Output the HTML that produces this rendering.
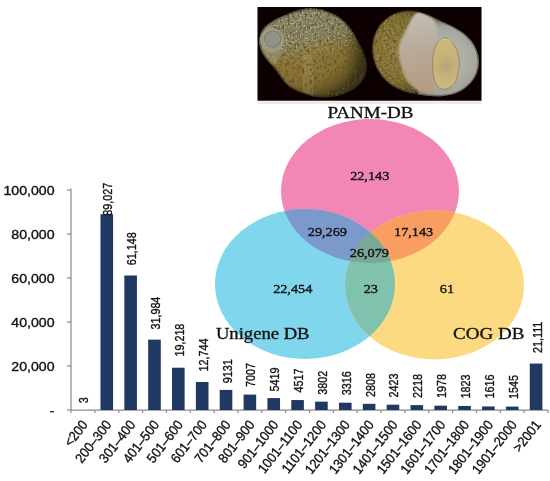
<!DOCTYPE html><html><head><meta charset="utf-8"><style>html,body{margin:0;padding:0;background:#fff;}svg{display:block}</style></head><body>
<svg width="550" height="481" viewBox="0 0 550 481">
<rect width="550" height="481" fill="#fff"/>
<g stroke="#8e8e8e" stroke-width="1.25" fill="none">
<line x1="71.0" y1="188.5" x2="71.0" y2="410.0"/>
<line x1="71.0" y1="410.0" x2="548.5" y2="410.0"/>
<line x1="67.0" y1="410.0" x2="71.0" y2="410.0"/>
<line x1="67.0" y1="366.0" x2="71.0" y2="366.0"/>
<line x1="67.0" y1="322.0" x2="71.0" y2="322.0"/>
<line x1="67.0" y1="278.0" x2="71.0" y2="278.0"/>
<line x1="67.0" y1="234.0" x2="71.0" y2="234.0"/>
<line x1="67.0" y1="190.0" x2="71.0" y2="190.0"/>
<line x1="71.00" y1="410.0" x2="71.00" y2="413.0"/>
<line x1="94.85" y1="410.0" x2="94.85" y2="413.0"/>
<line x1="118.70" y1="410.0" x2="118.70" y2="413.0"/>
<line x1="142.55" y1="410.0" x2="142.55" y2="413.0"/>
<line x1="166.40" y1="410.0" x2="166.40" y2="413.0"/>
<line x1="190.25" y1="410.0" x2="190.25" y2="413.0"/>
<line x1="214.10" y1="410.0" x2="214.10" y2="413.0"/>
<line x1="237.95" y1="410.0" x2="237.95" y2="413.0"/>
<line x1="261.80" y1="410.0" x2="261.80" y2="413.0"/>
<line x1="285.65" y1="410.0" x2="285.65" y2="413.0"/>
<line x1="309.50" y1="410.0" x2="309.50" y2="413.0"/>
<line x1="333.35" y1="410.0" x2="333.35" y2="413.0"/>
<line x1="357.20" y1="410.0" x2="357.20" y2="413.0"/>
<line x1="381.05" y1="410.0" x2="381.05" y2="413.0"/>
<line x1="404.90" y1="410.0" x2="404.90" y2="413.0"/>
<line x1="428.75" y1="410.0" x2="428.75" y2="413.0"/>
<line x1="452.60" y1="410.0" x2="452.60" y2="413.0"/>
<line x1="476.45" y1="410.0" x2="476.45" y2="413.0"/>
<line x1="500.30" y1="410.0" x2="500.30" y2="413.0"/>
<line x1="524.15" y1="410.0" x2="524.15" y2="413.0"/>
<line x1="548.00" y1="410.0" x2="548.00" y2="413.0"/>
</g>
<g fill="#1f3963">
<rect x="100.48" y="214.14" width="12.6" height="195.86"/>
<rect x="124.33" y="275.47" width="12.6" height="134.53"/>
<rect x="148.18" y="339.64" width="12.6" height="70.36"/>
<rect x="172.02" y="367.72" width="12.6" height="42.28"/>
<rect x="195.88" y="381.96" width="12.6" height="28.04"/>
<rect x="219.72" y="389.91" width="12.6" height="20.09"/>
<rect x="243.57" y="394.58" width="12.6" height="15.42"/>
<rect x="267.43" y="398.08" width="12.6" height="11.92"/>
<rect x="291.28" y="400.06" width="12.6" height="9.94"/>
<rect x="315.12" y="401.64" width="12.6" height="8.36"/>
<rect x="338.98" y="402.70" width="12.6" height="7.30"/>
<rect x="362.82" y="403.82" width="12.6" height="6.18"/>
<rect x="386.68" y="404.67" width="12.6" height="5.33"/>
<rect x="410.53" y="405.12" width="12.6" height="4.88"/>
<rect x="434.38" y="405.65" width="12.6" height="4.35"/>
<rect x="458.23" y="405.99" width="12.6" height="4.01"/>
<rect x="482.07" y="406.44" width="12.6" height="3.56"/>
<rect x="505.93" y="406.60" width="12.6" height="3.40"/>
<rect x="529.78" y="363.56" width="12.6" height="46.44"/>
</g>
<g font-family="Liberation Sans, Arial, sans-serif" font-size="12.4" fill="#111" text-anchor="end" stroke="#111" stroke-width="0.35">
<text transform="translate(54.5,414.6) scale(1.14,1)">-</text>
<text transform="translate(54.5,370.6) scale(1.14,1)">20,000</text>
<text transform="translate(54.5,326.6) scale(1.14,1)">40,000</text>
<text transform="translate(54.5,282.6) scale(1.14,1)">60,000</text>
<text transform="translate(54.5,238.6) scale(1.14,1)">80,000</text>
<text transform="translate(54.5,194.6) scale(1.14,1)">100,000</text>
</g>
<g font-family="Liberation Sans, Arial, sans-serif" font-size="10.8" fill="#111" stroke="#111" stroke-width="0.3">
<text transform="translate(88.42,403.2) scale(1.2,1) rotate(-90)">3</text>
<text transform="translate(112.28,215.8) scale(1.2,1) rotate(-90)">89,027</text>
<text transform="translate(136.12,265.3) scale(1.2,1) rotate(-90)">61,148</text>
<text transform="translate(159.98,329.6) scale(1.2,1) rotate(-90)">31,984</text>
<text transform="translate(183.82,356.6) scale(1.2,1) rotate(-90)">19,218</text>
<text transform="translate(207.68,371.5) scale(1.2,1) rotate(-90)">12,744</text>
<text transform="translate(231.53,383.3) scale(1.2,1) rotate(-90)">9131</text>
<text transform="translate(255.38,387) scale(1.2,1) rotate(-90)">7007</text>
<text transform="translate(279.23,391.6) scale(1.2,1) rotate(-90)">5419</text>
<text transform="translate(303.08,392.5) scale(1.2,1) rotate(-90)">4517</text>
<text transform="translate(326.93,394.7) scale(1.2,1) rotate(-90)">3802</text>
<text transform="translate(350.78,395.2) scale(1.2,1) rotate(-90)">3316</text>
<text transform="translate(374.62,396.9) scale(1.2,1) rotate(-90)">2808</text>
<text transform="translate(398.48,397.6) scale(1.2,1) rotate(-90)">2423</text>
<text transform="translate(422.33,398) scale(1.2,1) rotate(-90)">2218</text>
<text transform="translate(446.18,398) scale(1.2,1) rotate(-90)">1978</text>
<text transform="translate(470.03,398.4) scale(1.2,1) rotate(-90)">1823</text>
<text transform="translate(493.88,398.4) scale(1.2,1) rotate(-90)">1616</text>
<text transform="translate(517.73,399) scale(1.2,1) rotate(-90)">1545</text>
<text transform="translate(541.58,353) scale(1.2,1) rotate(-90)">21,111</text>
</g>
<g font-family="Liberation Sans, Arial, sans-serif" font-size="12.7" fill="#111" text-anchor="end" stroke="#111" stroke-width="0.3">
<text transform="translate(88.33,425.0) rotate(-52) scale(1,1.08)">&lt;200</text>
<text transform="translate(112.18,425.0) rotate(-52) scale(1,1.08)">200–300</text>
<text transform="translate(136.03,425.0) rotate(-52) scale(1,1.08)">301–400</text>
<text transform="translate(159.88,425.0) rotate(-52) scale(1,1.08)">401–500</text>
<text transform="translate(183.72,425.0) rotate(-52) scale(1,1.08)">501–600</text>
<text transform="translate(207.58,425.0) rotate(-52) scale(1,1.08)">601–700</text>
<text transform="translate(231.43,425.0) rotate(-52) scale(1,1.08)">701–800</text>
<text transform="translate(255.28,425.0) rotate(-52) scale(1,1.08)">801–900</text>
<text transform="translate(279.12,425.0) rotate(-52) scale(1,1.08)">901–1000</text>
<text transform="translate(302.98,425.0) rotate(-52) scale(1,1.08)">1001–1100</text>
<text transform="translate(326.82,425.0) rotate(-52) scale(1,1.08)">1101–1200</text>
<text transform="translate(350.68,425.0) rotate(-52) scale(1,1.08)">1201–1300</text>
<text transform="translate(374.52,425.0) rotate(-52) scale(1,1.08)">1301–1400</text>
<text transform="translate(398.38,425.0) rotate(-52) scale(1,1.08)">1401–1500</text>
<text transform="translate(422.23,425.0) rotate(-52) scale(1,1.08)">1501–1600</text>
<text transform="translate(446.07,425.0) rotate(-52) scale(1,1.08)">1601–1700</text>
<text transform="translate(469.93,425.0) rotate(-52) scale(1,1.08)">1701–1800</text>
<text transform="translate(493.77,425.0) rotate(-52) scale(1,1.08)">1801–1900</text>
<text transform="translate(517.62,425.0) rotate(-52) scale(1,1.08)">1901–2000</text>
<text transform="translate(541.48,425.0) rotate(-52) scale(1,1.08)">&gt;2001</text>
</g>
<defs>
<clipPath id="cP"><ellipse cx="370" cy="191" rx="89" ry="72"/></clipPath>
<clipPath id="cB"><ellipse cx="305" cy="284" rx="90" ry="75"/></clipPath>
<clipPath id="cY"><ellipse cx="434.5" cy="285" rx="89.5" ry="74.5"/></clipPath>
</defs>
<ellipse cx="370" cy="191" rx="89" ry="72" fill="#f287b5"/>
<ellipse cx="305" cy="284" rx="90" ry="75" fill="#80d6ec"/>
<ellipse cx="434.5" cy="285" rx="89.5" ry="74.5" fill="#fbda82"/>
<g clip-path="url(#cP)"><ellipse cx="305" cy="284" rx="90" ry="75" fill="#7b99cb"/><ellipse cx="434.5" cy="285" rx="89.5" ry="74.5" fill="#f89e60"/></g>
<g clip-path="url(#cB)"><ellipse cx="434.5" cy="285" rx="89.5" ry="74.5" fill="#80c2ad"/></g>
<g clip-path="url(#cP)"><g clip-path="url(#cB)"><ellipse cx="434.5" cy="285" rx="89.5" ry="74.5" fill="#79a897"/></g></g>
<g font-family="Liberation Serif, Times New Roman, serif" font-size="13.2" fill="#151515" text-anchor="middle" stroke="#151515" stroke-width="0.4">
<text transform="translate(369.7,180.0) scale(1.08,1)">22,143</text>
<text transform="translate(327.4,235.7) scale(1.08,1)">29,269</text>
<text transform="translate(413.6,235.7) scale(1.08,1)">17,143</text>
<text transform="translate(369.4,256.8) scale(1.08,1)">26,079</text>
<text transform="translate(292.7,293.1) scale(1.08,1)">22,454</text>
<text transform="translate(370.8,293.1) scale(1.08,1)">23</text>
<text transform="translate(446.9,293.1) scale(1.08,1)">61</text>
</g>
<g font-family="Liberation Serif, Times New Roman, serif" font-size="16" fill="#111" text-anchor="middle" stroke="#111" stroke-width="0.3">
<text transform="translate(370.5,117.5) scale(1.19,1)">PANM-DB</text>
<text transform="translate(262.7,339.4) scale(1.165,1)">Unigene DB</text>
<text transform="translate(488.8,339.4) scale(1.19,1)">COG DB</text>
</g>
<defs>
<clipPath id="cS1"><path d="M264.3,56.0 C263.3,54.4 262.3,52.7 261.5,51.0 C260.8,49.3 260.1,47.4 259.8,45.6 C259.4,43.8 259.2,41.9 259.3,40.0 C259.4,38.2 259.8,36.4 260.4,34.7 C261.0,32.9 261.8,31.3 262.8,29.8 C263.8,28.3 265.1,26.9 266.4,25.6 C267.7,24.3 269.2,23.2 270.7,22.2 C272.2,21.2 273.8,20.3 275.4,19.5 C276.9,18.7 278.5,17.9 280.1,17.2 C281.6,16.5 283.2,15.9 284.7,15.3 C286.2,14.7 287.7,14.1 289.1,13.5 C290.6,12.9 292.1,12.3 293.6,11.8 C295.0,11.3 296.5,10.8 298.0,10.3 C299.5,9.9 301.0,9.5 302.6,9.2 C304.1,8.9 305.6,8.7 307.2,8.6 C308.7,8.4 310.3,8.4 311.9,8.4 C313.4,8.5 315.0,8.6 316.5,8.8 C318.0,9.0 319.6,9.3 321.1,9.6 C322.6,10.0 324.1,10.4 325.5,10.9 C327.0,11.3 328.5,11.9 329.9,12.4 C331.3,13.0 332.7,13.7 334.1,14.4 C335.5,15.1 336.8,15.8 338.1,16.7 C339.4,17.5 340.7,18.4 341.9,19.4 C343.1,20.3 344.3,21.4 345.4,22.5 C346.4,23.6 347.5,24.7 348.4,25.9 C349.4,27.2 350.3,28.4 351.2,29.7 C352.1,31.0 352.9,32.3 353.7,33.6 C354.5,35.0 355.2,36.3 356.0,37.7 C356.8,39.1 357.5,40.5 358.3,41.9 C359.0,43.3 359.8,44.8 360.6,46.3 C361.3,47.8 362.1,49.3 362.8,51.0 C363.5,52.6 364.2,54.2 364.7,56.0 C365.3,57.7 365.8,59.5 366.1,61.3 C366.4,63.1 366.6,65.0 366.6,66.9 C366.5,68.7 366.3,70.6 365.9,72.4 C365.5,74.2 364.9,75.9 364.1,77.6 C363.3,79.3 362.2,80.8 361.1,82.3 C359.9,83.7 358.6,85.1 357.2,86.3 C355.8,87.5 354.3,88.6 352.7,89.5 C351.2,90.5 349.5,91.3 347.9,92.0 C346.3,92.8 344.7,93.4 343.0,94.0 C341.4,94.5 339.8,95.0 338.2,95.4 C336.6,95.8 335.0,96.2 333.5,96.4 C331.9,96.7 330.4,96.9 328.9,97.1 C327.4,97.2 325.9,97.3 324.4,97.3 C322.9,97.4 321.5,97.3 320.1,97.2 C318.6,97.1 317.2,96.9 315.9,96.7 C314.5,96.5 313.2,96.2 311.9,95.9 C310.6,95.5 309.3,95.2 308.0,94.8 C306.8,94.4 305.6,94.0 304.4,93.6 C303.2,93.2 302.0,92.8 300.8,92.4 C299.7,91.9 298.5,91.5 297.4,91.0 C296.2,90.5 295.1,90.0 294.0,89.4 C292.9,88.8 291.8,88.2 290.8,87.5 C289.8,86.8 288.8,86.1 287.8,85.3 C286.9,84.5 286.0,83.6 285.2,82.7 C284.3,81.8 283.6,80.8 282.8,79.8 C282.1,78.8 281.4,77.8 280.7,76.8 C280.0,75.8 279.4,74.7 278.6,73.7 C277.9,72.7 277.2,71.7 276.4,70.7 C275.6,69.6 274.7,68.6 273.8,67.5 C272.9,66.4 271.8,65.3 270.8,64.1 C269.7,62.9 268.6,61.7 267.5,60.3 C266.4,59.0 265.3,57.5 264.3,56.0 Z"/></clipPath>
<clipPath id="cS2"><path d="M373.0,56.1 C372.7,54.4 372.5,52.6 372.4,50.8 C372.3,49.0 372.4,47.2 372.5,45.3 C372.7,43.5 372.9,41.7 373.3,39.9 C373.7,38.1 374.2,36.3 374.9,34.6 C375.5,32.8 376.3,31.1 377.2,29.5 C378.1,27.9 379.1,26.3 380.2,24.8 C381.3,23.4 382.6,22.0 383.9,20.7 C385.2,19.4 386.7,18.2 388.2,17.2 C389.7,16.1 391.3,15.2 393.0,14.4 C394.6,13.6 396.3,12.9 398.0,12.4 C399.8,11.9 401.5,11.5 403.3,11.2 C405.0,10.9 406.8,10.8 408.6,10.8 C410.3,10.8 412.0,10.9 413.7,11.1 C415.4,11.3 417.0,11.6 418.6,11.9 C420.2,12.3 421.8,12.8 423.3,13.2 C424.8,13.7 426.2,14.3 427.6,14.8 C429.0,15.4 430.4,16.0 431.7,16.6 C433.0,17.2 434.3,17.8 435.6,18.4 C436.8,19.0 438.0,19.6 439.3,20.2 C440.5,20.8 441.8,21.4 443.0,22.0 C444.3,22.6 445.5,23.1 446.8,23.8 C448.1,24.4 449.4,25.0 450.7,25.6 C452.1,26.3 453.4,27.0 454.8,27.7 C456.2,28.5 457.6,29.3 459.0,30.2 C460.4,31.1 461.8,32.0 463.2,33.1 C464.6,34.2 465.9,35.3 467.2,36.6 C468.5,37.8 469.8,39.2 471.0,40.6 C472.1,42.1 473.2,43.7 474.2,45.3 C475.1,47.0 476.0,48.7 476.6,50.5 C477.3,52.3 477.8,54.2 478.2,56.1 C478.5,58.0 478.7,60.0 478.7,62.0 C478.7,63.9 478.6,65.9 478.2,67.8 C477.8,69.7 477.3,71.6 476.6,73.4 C475.8,75.3 474.9,77.0 473.9,78.7 C472.9,80.3 471.7,81.9 470.4,83.3 C469.1,84.8 467.6,86.1 466.1,87.3 C464.7,88.5 463.0,89.5 461.4,90.5 C459.8,91.4 458.1,92.2 456.4,92.9 C454.7,93.6 452.9,94.1 451.2,94.6 C449.5,95.0 447.8,95.4 446.1,95.6 C444.4,95.9 442.7,96.0 441.1,96.2 C439.5,96.3 437.9,96.3 436.3,96.3 C434.8,96.3 433.3,96.2 431.8,96.1 C430.3,96.1 428.9,95.9 427.5,95.8 C426.0,95.7 424.7,95.5 423.3,95.3 C421.9,95.2 420.6,95.0 419.2,94.8 C417.9,94.6 416.6,94.3 415.2,94.1 C413.9,93.8 412.6,93.6 411.2,93.3 C409.9,92.9 408.6,92.6 407.2,92.2 C405.9,91.8 404.5,91.4 403.2,90.9 C401.9,90.4 400.5,89.9 399.2,89.3 C397.9,88.7 396.5,88.0 395.2,87.3 C393.9,86.6 392.6,85.8 391.4,84.9 C390.1,84.0 388.9,83.0 387.7,82.0 C386.5,81.0 385.3,79.9 384.2,78.7 C383.1,77.5 382.1,76.2 381.1,74.9 C380.1,73.6 379.2,72.2 378.4,70.7 C377.5,69.3 376.7,67.8 376.0,66.2 C375.4,64.6 374.8,63.0 374.3,61.3 C373.7,59.6 373.3,57.9 373.0,56.1 Z"/></clipPath>
<filter id="nzL" x="0" y="0" width="1" height="1"><feTurbulence type="fractalNoise" baseFrequency="0.5 0.6" numOctaves="2" seed="4" result="n"/><feColorMatrix in="n" type="matrix" values="0 0 0 0 0.76  0 0 0 0 0.80  0 0 0 0 0.74  4.5 0 0 0 -2.3"/></filter>
<filter id="nzD" x="0" y="0" width="1" height="1"><feTurbulence type="fractalNoise" baseFrequency="0.4 0.3" numOctaves="2" seed="9" result="n"/><feColorMatrix in="n" type="matrix" values="0 0 0 0 0.12  0 0 0 0 0.09  0 0 0 0 0.02  4 0 0 0 -2.0"/></filter>
<radialGradient id="g1" gradientUnits="userSpaceOnUse" cx="300" cy="48" r="66" gradientTransform="translate(300 48) scale(1 0.8) rotate(20) translate(-300 -48)"><stop offset="0" stop-color="#927c3c"/><stop offset="0.65" stop-color="#866e32"/><stop offset="0.85" stop-color="#6a5826"/><stop offset="1" stop-color="#3e3416"/></radialGradient>
<linearGradient id="g1b" gradientUnits="userSpaceOnUse" x1="300" y1="10" x2="312" y2="62"><stop offset="0" stop-color="#8a8c78" stop-opacity="0.8"/><stop offset="0.6" stop-color="#7c8270" stop-opacity="0.6"/><stop offset="0.9" stop-color="#807a50" stop-opacity="0"/></linearGradient>
<linearGradient id="g1r" gradientUnits="userSpaceOnUse" x1="345" y1="0" x2="367" y2="0"><stop offset="0" stop-color="#2a2812" stop-opacity="0"/><stop offset="1" stop-color="#2a2812" stop-opacity="0.55"/></linearGradient>
<radialGradient id="g2" gradientUnits="userSpaceOnUse" cx="395" cy="50" r="48"><stop offset="0" stop-color="#8e7a38"/><stop offset="0.7" stop-color="#7e6a2c"/><stop offset="1" stop-color="#423616"/></radialGradient>
<linearGradient id="gWb" gradientUnits="userSpaceOnUse" x1="410" y1="15" x2="420" y2="95"><stop offset="0" stop-color="#c2beb2"/><stop offset="0.45" stop-color="#b8aa98"/><stop offset="1" stop-color="#b49c80"/></linearGradient>
<radialGradient id="gIn" gradientUnits="userSpaceOnUse" cx="446" cy="66" r="27"><stop offset="0" stop-color="#b8a476"/><stop offset="0.45" stop-color="#c6b47a"/><stop offset="1" stop-color="#ccba7c"/></radialGradient>
<radialGradient id="gLip" gradientUnits="userSpaceOnUse" cx="444" cy="60" r="40"><stop offset="0.5" stop-color="#b0b0a6"/><stop offset="0.85" stop-color="#a2a49a"/><stop offset="1" stop-color="#7a7a70"/></radialGradient>
<linearGradient id="mg1" gradientUnits="userSpaceOnUse" x1="305" y1="10" x2="312" y2="66"><stop offset="0" stop-color="#fff"/><stop offset="0.6" stop-color="#fff"/><stop offset="1" stop-color="#000"/></linearGradient>
<mask id="m1" maskUnits="userSpaceOnUse" x="250" y="0" width="240" height="110"><rect x="250" y="0" width="240" height="110" fill="url(#mg1)"/></mask>
<filter id="bl1" x="-20%" y="-20%" width="140%" height="140%"><feGaussianBlur stdDeviation="1.2"/></filter>
<filter id="phb" x="-5%" y="-5%" width="110%" height="110%"><feGaussianBlur stdDeviation="0.55"/></filter>
</defs>
<g filter="url(#phb)">
<rect x="258" y="101" width="224" height="3" fill="#000" opacity="0.08"/>
<rect x="257.5" y="7" width="224" height="93.7" fill="#070605"/>
<path d="M264.3,56.0 C263.3,54.4 262.3,52.7 261.5,51.0 C260.8,49.3 260.1,47.4 259.8,45.6 C259.4,43.8 259.2,41.9 259.3,40.0 C259.4,38.2 259.8,36.4 260.4,34.7 C261.0,32.9 261.8,31.3 262.8,29.8 C263.8,28.3 265.1,26.9 266.4,25.6 C267.7,24.3 269.2,23.2 270.7,22.2 C272.2,21.2 273.8,20.3 275.4,19.5 C276.9,18.7 278.5,17.9 280.1,17.2 C281.6,16.5 283.2,15.9 284.7,15.3 C286.2,14.7 287.7,14.1 289.1,13.5 C290.6,12.9 292.1,12.3 293.6,11.8 C295.0,11.3 296.5,10.8 298.0,10.3 C299.5,9.9 301.0,9.5 302.6,9.2 C304.1,8.9 305.6,8.7 307.2,8.6 C308.7,8.4 310.3,8.4 311.9,8.4 C313.4,8.5 315.0,8.6 316.5,8.8 C318.0,9.0 319.6,9.3 321.1,9.6 C322.6,10.0 324.1,10.4 325.5,10.9 C327.0,11.3 328.5,11.9 329.9,12.4 C331.3,13.0 332.7,13.7 334.1,14.4 C335.5,15.1 336.8,15.8 338.1,16.7 C339.4,17.5 340.7,18.4 341.9,19.4 C343.1,20.3 344.3,21.4 345.4,22.5 C346.4,23.6 347.5,24.7 348.4,25.9 C349.4,27.2 350.3,28.4 351.2,29.7 C352.1,31.0 352.9,32.3 353.7,33.6 C354.5,35.0 355.2,36.3 356.0,37.7 C356.8,39.1 357.5,40.5 358.3,41.9 C359.0,43.3 359.8,44.8 360.6,46.3 C361.3,47.8 362.1,49.3 362.8,51.0 C363.5,52.6 364.2,54.2 364.7,56.0 C365.3,57.7 365.8,59.5 366.1,61.3 C366.4,63.1 366.6,65.0 366.6,66.9 C366.5,68.7 366.3,70.6 365.9,72.4 C365.5,74.2 364.9,75.9 364.1,77.6 C363.3,79.3 362.2,80.8 361.1,82.3 C359.9,83.7 358.6,85.1 357.2,86.3 C355.8,87.5 354.3,88.6 352.7,89.5 C351.2,90.5 349.5,91.3 347.9,92.0 C346.3,92.8 344.7,93.4 343.0,94.0 C341.4,94.5 339.8,95.0 338.2,95.4 C336.6,95.8 335.0,96.2 333.5,96.4 C331.9,96.7 330.4,96.9 328.9,97.1 C327.4,97.2 325.9,97.3 324.4,97.3 C322.9,97.4 321.5,97.3 320.1,97.2 C318.6,97.1 317.2,96.9 315.9,96.7 C314.5,96.5 313.2,96.2 311.9,95.9 C310.6,95.5 309.3,95.2 308.0,94.8 C306.8,94.4 305.6,94.0 304.4,93.6 C303.2,93.2 302.0,92.8 300.8,92.4 C299.7,91.9 298.5,91.5 297.4,91.0 C296.2,90.5 295.1,90.0 294.0,89.4 C292.9,88.8 291.8,88.2 290.8,87.5 C289.8,86.8 288.8,86.1 287.8,85.3 C286.9,84.5 286.0,83.6 285.2,82.7 C284.3,81.8 283.6,80.8 282.8,79.8 C282.1,78.8 281.4,77.8 280.7,76.8 C280.0,75.8 279.4,74.7 278.6,73.7 C277.9,72.7 277.2,71.7 276.4,70.7 C275.6,69.6 274.7,68.6 273.8,67.5 C272.9,66.4 271.8,65.3 270.8,64.1 C269.7,62.9 268.6,61.7 267.5,60.3 C266.4,59.0 265.3,57.5 264.3,56.0 Z" fill="url(#g1)"/>
<g clip-path="url(#cS1)">
<path d="M264.3,56.0 C263.3,54.4 262.3,52.7 261.5,51.0 C260.8,49.3 260.1,47.4 259.8,45.6 C259.4,43.8 259.2,41.9 259.3,40.0 C259.4,38.2 259.8,36.4 260.4,34.7 C261.0,32.9 261.8,31.3 262.8,29.8 C263.8,28.3 265.1,26.9 266.4,25.6 C267.7,24.3 269.2,23.2 270.7,22.2 C272.2,21.2 273.8,20.3 275.4,19.5 C276.9,18.7 278.5,17.9 280.1,17.2 C281.6,16.5 283.2,15.9 284.7,15.3 C286.2,14.7 287.7,14.1 289.1,13.5 C290.6,12.9 292.1,12.3 293.6,11.8 C295.0,11.3 296.5,10.8 298.0,10.3 C299.5,9.9 301.0,9.5 302.6,9.2 C304.1,8.9 305.6,8.7 307.2,8.6 C308.7,8.4 310.3,8.4 311.9,8.4 C313.4,8.5 315.0,8.6 316.5,8.8 C318.0,9.0 319.6,9.3 321.1,9.6 C322.6,10.0 324.1,10.4 325.5,10.9 C327.0,11.3 328.5,11.9 329.9,12.4 C331.3,13.0 332.7,13.7 334.1,14.4 C335.5,15.1 336.8,15.8 338.1,16.7 C339.4,17.5 340.7,18.4 341.9,19.4 C343.1,20.3 344.3,21.4 345.4,22.5 C346.4,23.6 347.5,24.7 348.4,25.9 C349.4,27.2 350.3,28.4 351.2,29.7 C352.1,31.0 352.9,32.3 353.7,33.6 C354.5,35.0 355.2,36.3 356.0,37.7 C356.8,39.1 357.5,40.5 358.3,41.9 C359.0,43.3 359.8,44.8 360.6,46.3 C361.3,47.8 362.1,49.3 362.8,51.0 C363.5,52.6 364.2,54.2 364.7,56.0 C365.3,57.7 365.8,59.5 366.1,61.3 C366.4,63.1 366.6,65.0 366.6,66.9 C366.5,68.7 366.3,70.6 365.9,72.4 C365.5,74.2 364.9,75.9 364.1,77.6 C363.3,79.3 362.2,80.8 361.1,82.3 C359.9,83.7 358.6,85.1 357.2,86.3 C355.8,87.5 354.3,88.6 352.7,89.5 C351.2,90.5 349.5,91.3 347.9,92.0 C346.3,92.8 344.7,93.4 343.0,94.0 C341.4,94.5 339.8,95.0 338.2,95.4 C336.6,95.8 335.0,96.2 333.5,96.4 C331.9,96.7 330.4,96.9 328.9,97.1 C327.4,97.2 325.9,97.3 324.4,97.3 C322.9,97.4 321.5,97.3 320.1,97.2 C318.6,97.1 317.2,96.9 315.9,96.7 C314.5,96.5 313.2,96.2 311.9,95.9 C310.6,95.5 309.3,95.2 308.0,94.8 C306.8,94.4 305.6,94.0 304.4,93.6 C303.2,93.2 302.0,92.8 300.8,92.4 C299.7,91.9 298.5,91.5 297.4,91.0 C296.2,90.5 295.1,90.0 294.0,89.4 C292.9,88.8 291.8,88.2 290.8,87.5 C289.8,86.8 288.8,86.1 287.8,85.3 C286.9,84.5 286.0,83.6 285.2,82.7 C284.3,81.8 283.6,80.8 282.8,79.8 C282.1,78.8 281.4,77.8 280.7,76.8 C280.0,75.8 279.4,74.7 278.6,73.7 C277.9,72.7 277.2,71.7 276.4,70.7 C275.6,69.6 274.7,68.6 273.8,67.5 C272.9,66.4 271.8,65.3 270.8,64.1 C269.7,62.9 268.6,61.7 267.5,60.3 C266.4,59.0 265.3,57.5 264.3,56.0 Z" fill="url(#g1b)"/>
<rect x="303" y="55" width="10" height="45" fill="#a89a6a" opacity="0.3"/>
<rect x="255" y="5" width="115" height="100" filter="url(#nzD)"/>
<g mask="url(#m1)"><rect x="255" y="5" width="115" height="95" filter="url(#nzL)" opacity="0.45"/></g>
<rect x="330" y="5" width="40" height="100" fill="url(#g1r)"/>
<ellipse cx="269" cy="46" rx="13" ry="20" fill="#a8a080" opacity="0.45"/>
<path d="M264.3,56.0 C263.3,54.4 262.3,52.7 261.5,51.0 C260.8,49.3 260.1,47.4 259.8,45.6 C259.4,43.8 259.2,41.9 259.3,40.0 C259.4,38.2 259.8,36.4 260.4,34.7 C261.0,32.9 261.8,31.3 262.8,29.8 C263.8,28.3 265.1,26.9 266.4,25.6 C267.7,24.3 269.2,23.2 270.7,22.2 C272.2,21.2 273.8,20.3 275.4,19.5 C276.9,18.7 278.5,17.9 280.1,17.2 C281.6,16.5 283.2,15.9 284.7,15.3 C286.2,14.7 287.7,14.1 289.1,13.5 C290.6,12.9 292.1,12.3 293.6,11.8 C295.0,11.3 296.5,10.8 298.0,10.3 C299.5,9.9 301.0,9.5 302.6,9.2 C304.1,8.9 305.6,8.7 307.2,8.6 C308.7,8.4 310.3,8.4 311.9,8.4 C313.4,8.5 315.0,8.6 316.5,8.8 C318.0,9.0 319.6,9.3 321.1,9.6 C322.6,10.0 324.1,10.4 325.5,10.9 C327.0,11.3 328.5,11.9 329.9,12.4 C331.3,13.0 332.7,13.7 334.1,14.4 C335.5,15.1 336.8,15.8 338.1,16.7 C339.4,17.5 340.7,18.4 341.9,19.4 C343.1,20.3 344.3,21.4 345.4,22.5 C346.4,23.6 347.5,24.7 348.4,25.9 C349.4,27.2 350.3,28.4 351.2,29.7 C352.1,31.0 352.9,32.3 353.7,33.6 C354.5,35.0 355.2,36.3 356.0,37.7 C356.8,39.1 357.5,40.5 358.3,41.9 C359.0,43.3 359.8,44.8 360.6,46.3 C361.3,47.8 362.1,49.3 362.8,51.0 C363.5,52.6 364.2,54.2 364.7,56.0 C365.3,57.7 365.8,59.5 366.1,61.3 C366.4,63.1 366.6,65.0 366.6,66.9 C366.5,68.7 366.3,70.6 365.9,72.4 C365.5,74.2 364.9,75.9 364.1,77.6 C363.3,79.3 362.2,80.8 361.1,82.3 C359.9,83.7 358.6,85.1 357.2,86.3 C355.8,87.5 354.3,88.6 352.7,89.5 C351.2,90.5 349.5,91.3 347.9,92.0 C346.3,92.8 344.7,93.4 343.0,94.0 C341.4,94.5 339.8,95.0 338.2,95.4 C336.6,95.8 335.0,96.2 333.5,96.4 C331.9,96.7 330.4,96.9 328.9,97.1 C327.4,97.2 325.9,97.3 324.4,97.3 C322.9,97.4 321.5,97.3 320.1,97.2 C318.6,97.1 317.2,96.9 315.9,96.7 C314.5,96.5 313.2,96.2 311.9,95.9 C310.6,95.5 309.3,95.2 308.0,94.8 C306.8,94.4 305.6,94.0 304.4,93.6 C303.2,93.2 302.0,92.8 300.8,92.4 C299.7,91.9 298.5,91.5 297.4,91.0 C296.2,90.5 295.1,90.0 294.0,89.4 C292.9,88.8 291.8,88.2 290.8,87.5 C289.8,86.8 288.8,86.1 287.8,85.3 C286.9,84.5 286.0,83.6 285.2,82.7 C284.3,81.8 283.6,80.8 282.8,79.8 C282.1,78.8 281.4,77.8 280.7,76.8 C280.0,75.8 279.4,74.7 278.6,73.7 C277.9,72.7 277.2,71.7 276.4,70.7 C275.6,69.6 274.7,68.6 273.8,67.5 C272.9,66.4 271.8,65.3 270.8,64.1 C269.7,62.9 268.6,61.7 267.5,60.3 C266.4,59.0 265.3,57.5 264.3,56.0 Z" fill="none" stroke="#2a2410" stroke-width="3" opacity="0.45"/>
<circle cx="272" cy="40" r="12" fill="#a09a82" opacity="0.85"/>
<circle cx="272.8" cy="39" r="8" fill="#8e928a" opacity="0.85"/>
<circle cx="272.8" cy="39" r="8" fill="none" stroke="#6a6656" stroke-width="1.2" opacity="0.5"/>
</g>
<path d="M373.0,56.1 C372.7,54.4 372.5,52.6 372.4,50.8 C372.3,49.0 372.4,47.2 372.5,45.3 C372.7,43.5 372.9,41.7 373.3,39.9 C373.7,38.1 374.2,36.3 374.9,34.6 C375.5,32.8 376.3,31.1 377.2,29.5 C378.1,27.9 379.1,26.3 380.2,24.8 C381.3,23.4 382.6,22.0 383.9,20.7 C385.2,19.4 386.7,18.2 388.2,17.2 C389.7,16.1 391.3,15.2 393.0,14.4 C394.6,13.6 396.3,12.9 398.0,12.4 C399.8,11.9 401.5,11.5 403.3,11.2 C405.0,10.9 406.8,10.8 408.6,10.8 C410.3,10.8 412.0,10.9 413.7,11.1 C415.4,11.3 417.0,11.6 418.6,11.9 C420.2,12.3 421.8,12.8 423.3,13.2 C424.8,13.7 426.2,14.3 427.6,14.8 C429.0,15.4 430.4,16.0 431.7,16.6 C433.0,17.2 434.3,17.8 435.6,18.4 C436.8,19.0 438.0,19.6 439.3,20.2 C440.5,20.8 441.8,21.4 443.0,22.0 C444.3,22.6 445.5,23.1 446.8,23.8 C448.1,24.4 449.4,25.0 450.7,25.6 C452.1,26.3 453.4,27.0 454.8,27.7 C456.2,28.5 457.6,29.3 459.0,30.2 C460.4,31.1 461.8,32.0 463.2,33.1 C464.6,34.2 465.9,35.3 467.2,36.6 C468.5,37.8 469.8,39.2 471.0,40.6 C472.1,42.1 473.2,43.7 474.2,45.3 C475.1,47.0 476.0,48.7 476.6,50.5 C477.3,52.3 477.8,54.2 478.2,56.1 C478.5,58.0 478.7,60.0 478.7,62.0 C478.7,63.9 478.6,65.9 478.2,67.8 C477.8,69.7 477.3,71.6 476.6,73.4 C475.8,75.3 474.9,77.0 473.9,78.7 C472.9,80.3 471.7,81.9 470.4,83.3 C469.1,84.8 467.6,86.1 466.1,87.3 C464.7,88.5 463.0,89.5 461.4,90.5 C459.8,91.4 458.1,92.2 456.4,92.9 C454.7,93.6 452.9,94.1 451.2,94.6 C449.5,95.0 447.8,95.4 446.1,95.6 C444.4,95.9 442.7,96.0 441.1,96.2 C439.5,96.3 437.9,96.3 436.3,96.3 C434.8,96.3 433.3,96.2 431.8,96.1 C430.3,96.1 428.9,95.9 427.5,95.8 C426.0,95.7 424.7,95.5 423.3,95.3 C421.9,95.2 420.6,95.0 419.2,94.8 C417.9,94.6 416.6,94.3 415.2,94.1 C413.9,93.8 412.6,93.6 411.2,93.3 C409.9,92.9 408.6,92.6 407.2,92.2 C405.9,91.8 404.5,91.4 403.2,90.9 C401.9,90.4 400.5,89.9 399.2,89.3 C397.9,88.7 396.5,88.0 395.2,87.3 C393.9,86.6 392.6,85.8 391.4,84.9 C390.1,84.0 388.9,83.0 387.7,82.0 C386.5,81.0 385.3,79.9 384.2,78.7 C383.1,77.5 382.1,76.2 381.1,74.9 C380.1,73.6 379.2,72.2 378.4,70.7 C377.5,69.3 376.7,67.8 376.0,66.2 C375.4,64.6 374.8,63.0 374.3,61.3 C373.7,59.6 373.3,57.9 373.0,56.1 Z" fill="url(#g2)"/>
<g clip-path="url(#cS2)">
<rect x="365" y="5" width="50" height="100" filter="url(#nzD)"/>
<rect x="365" y="5" width="50" height="100" filter="url(#nzL)" opacity="0.25"/>
<rect x="418" y="5" width="70" height="100" fill="url(#gLip)"/>
<path d="M416.0,13.0 C419.5,10.5 423.7,13.2 427.0,15.0 C430.3,16.8 434.3,19.0 436.0,24.0 C437.7,29.0 437.2,37.3 437.0,45.0 C436.8,52.7 435.7,62.2 435.0,70.0 C434.3,77.8 435.0,88.2 433.0,92.0 C431.0,95.8 426.3,93.8 423.0,93.0 C419.7,92.2 416.0,89.7 413.0,87.0 C410.0,84.3 407.2,81.2 405.0,77.0 C402.8,72.8 401.0,67.2 400.0,62.0 C399.0,56.8 398.0,51.3 399.0,46.0 C400.0,40.7 403.2,35.5 406.0,30.0 C408.8,24.5 412.5,15.5 416.0,13.0 Z" fill="url(#gWb)" filter="url(#bl1)"/>
<path d="M373.0,56.1 C372.7,54.4 372.5,52.6 372.4,50.8 C372.3,49.0 372.4,47.2 372.5,45.3 C372.7,43.5 372.9,41.7 373.3,39.9 C373.7,38.1 374.2,36.3 374.9,34.6 C375.5,32.8 376.3,31.1 377.2,29.5 C378.1,27.9 379.1,26.3 380.2,24.8 C381.3,23.4 382.6,22.0 383.9,20.7 C385.2,19.4 386.7,18.2 388.2,17.2 C389.7,16.1 391.3,15.2 393.0,14.4 C394.6,13.6 396.3,12.9 398.0,12.4 C399.8,11.9 401.5,11.5 403.3,11.2 C405.0,10.9 406.8,10.8 408.6,10.8 C410.3,10.8 412.0,10.9 413.7,11.1 C415.4,11.3 417.0,11.6 418.6,11.9 C420.2,12.3 421.8,12.8 423.3,13.2 C424.8,13.7 426.2,14.3 427.6,14.8 C429.0,15.4 430.4,16.0 431.7,16.6 C433.0,17.2 434.3,17.8 435.6,18.4 C436.8,19.0 438.0,19.6 439.3,20.2 C440.5,20.8 441.8,21.4 443.0,22.0 C444.3,22.6 445.5,23.1 446.8,23.8 C448.1,24.4 449.4,25.0 450.7,25.6 C452.1,26.3 453.4,27.0 454.8,27.7 C456.2,28.5 457.6,29.3 459.0,30.2 C460.4,31.1 461.8,32.0 463.2,33.1 C464.6,34.2 465.9,35.3 467.2,36.6 C468.5,37.8 469.8,39.2 471.0,40.6 C472.1,42.1 473.2,43.7 474.2,45.3 C475.1,47.0 476.0,48.7 476.6,50.5 C477.3,52.3 477.8,54.2 478.2,56.1 C478.5,58.0 478.7,60.0 478.7,62.0 C478.7,63.9 478.6,65.9 478.2,67.8 C477.8,69.7 477.3,71.6 476.6,73.4 C475.8,75.3 474.9,77.0 473.9,78.7 C472.9,80.3 471.7,81.9 470.4,83.3 C469.1,84.8 467.6,86.1 466.1,87.3 C464.7,88.5 463.0,89.5 461.4,90.5 C459.8,91.4 458.1,92.2 456.4,92.9 C454.7,93.6 452.9,94.1 451.2,94.6 C449.5,95.0 447.8,95.4 446.1,95.6 C444.4,95.9 442.7,96.0 441.1,96.2 C439.5,96.3 437.9,96.3 436.3,96.3 C434.8,96.3 433.3,96.2 431.8,96.1 C430.3,96.1 428.9,95.9 427.5,95.8 C426.0,95.7 424.7,95.5 423.3,95.3 C421.9,95.2 420.6,95.0 419.2,94.8 C417.9,94.6 416.6,94.3 415.2,94.1 C413.9,93.8 412.6,93.6 411.2,93.3 C409.9,92.9 408.6,92.6 407.2,92.2 C405.9,91.8 404.5,91.4 403.2,90.9 C401.9,90.4 400.5,89.9 399.2,89.3 C397.9,88.7 396.5,88.0 395.2,87.3 C393.9,86.6 392.6,85.8 391.4,84.9 C390.1,84.0 388.9,83.0 387.7,82.0 C386.5,81.0 385.3,79.9 384.2,78.7 C383.1,77.5 382.1,76.2 381.1,74.9 C380.1,73.6 379.2,72.2 378.4,70.7 C377.5,69.3 376.7,67.8 376.0,66.2 C375.4,64.6 374.8,63.0 374.3,61.3 C373.7,59.6 373.3,57.9 373.0,56.1 Z" fill="none" stroke="#2a2410" stroke-width="2.5" opacity="0.4"/>
<path d="M444.7,38.1 C446.8,38.1 449.0,39.6 451.0,41.5 C453.0,43.4 455.1,46.2 456.5,49.5 C457.9,52.8 458.9,57.5 459.2,61.4 C459.4,65.3 458.7,69.5 458.0,73.0 C457.3,76.5 456.4,80.0 454.9,82.5 C453.4,85.0 450.9,86.9 449.0,88.0 C447.1,89.1 445.3,89.5 443.3,89.2 C441.3,88.9 438.7,88.4 437.0,86.0 C435.3,83.6 434.1,79.0 433.3,75.0 C432.6,71.0 432.3,66.2 432.5,62.0 C432.7,57.8 433.3,53.4 434.3,50.0 C435.3,46.6 436.8,43.8 438.5,41.8 C440.2,39.8 442.6,38.1 444.7,38.1 Z" fill="url(#gIn)" stroke="#6a5c40" stroke-width="0.9" stroke-opacity="0.5"/>
<path d="M439,41 Q445,37 451,41.5" fill="none" stroke="#e0d8c0" stroke-width="1" opacity="0.6"/>
</g>
</g>
</svg></body></html>
